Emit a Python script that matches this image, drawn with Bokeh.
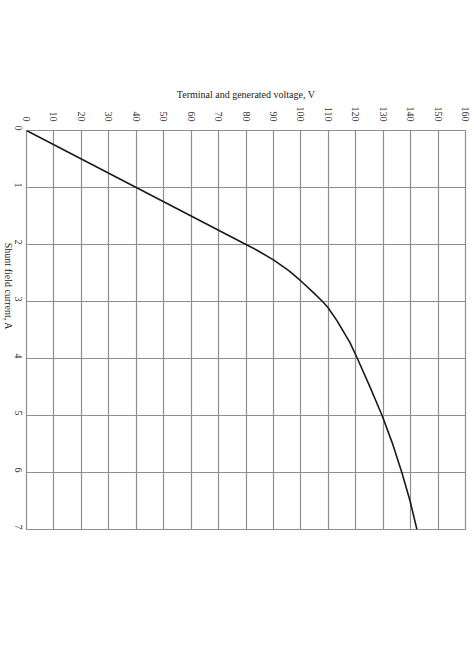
import math
from bokeh.plotting import figure
from bokeh.models import Range1d, FixedTicker
from bokeh.embed import file_html
from bokeh.resources import INLINE

# Data (shunt field current in A, voltage in V)
current_a = [0, 1, 2, 2.1, 2.27, 2.46, 2.64, 2.83, 3.0, 3.1, 3.34, 3.72, 4.0,
             4.49, 5.0, 5.48, 6.0, 6.5, 7.0]
voltage_v = [0, 40, 80, 84, 90, 95.6, 100, 104.3, 107.9, 109.8, 113.2, 117.9, 120.6,
             125.1, 129.6, 133.3, 136.8, 139.8, 142.3]

volt_ticks = list(range(0, 161, 10))
current_ticks = list(range(0, 8))

x_title = "Terminal and generated voltage, V"
y_title = "Shunt field current, A"

FONT = "Liberation Serif"
GRID = "#8e8e8e"

p = figure(
    frame_width=439, frame_height=399,
    x_range=Range1d(0, 160), y_range=Range1d(7, 0),
    x_axis_location="above",
    output_backend="svg", toolbar_location=None,
    min_border_left=10, min_border_top=130, min_border_right=7, min_border_bottom=90,
    background_fill_color="white", border_fill_color="white",
)
p.styles = {"margin-left": "-6px"}
p.outline_line_color = GRID
p.outline_line_width = 1.2

p.xaxis.ticker = FixedTicker(ticks=volt_ticks)
p.yaxis.ticker = FixedTicker(ticks=current_ticks)

for ax in (p.xaxis, p.yaxis):
    ax.axis_line_color = None
    ax.major_tick_line_color = None
    ax.minor_tick_line_color = None
    ax.major_label_text_font = FONT
    ax.major_label_text_font_size = "10px"
    ax.major_label_text_color = "#333333"
    ax.axis_label_text_font = FONT
    ax.axis_label_text_font_size = "10px"
    ax.axis_label_text_font_style = "normal"
    ax.axis_label_text_color = "#222222"
    ax.major_label_orientation = -math.pi / 2
    ax.major_label_standoff = 3

p.xaxis.axis_label = x_title
p.xaxis.axis_label_standoff = 4
p.yaxis.axis_label = y_title
p.yaxis.axis_label_standoff = 0
p.yaxis.axis_label_orientation = -math.pi / 2
p.yaxis.major_label_standoff = 2

p.xgrid.ticker = FixedTicker(ticks=volt_ticks)
p.ygrid.ticker = FixedTicker(ticks=current_ticks)
p.grid.grid_line_color = GRID
p.grid.grid_line_width = 1.2
p.grid.grid_line_alpha = 1.0

p.line(voltage_v, current_a, line_color="#1a1a1a", line_width=1.6, line_join="round")

open("out.html", "w").write(file_html(p, INLINE))
